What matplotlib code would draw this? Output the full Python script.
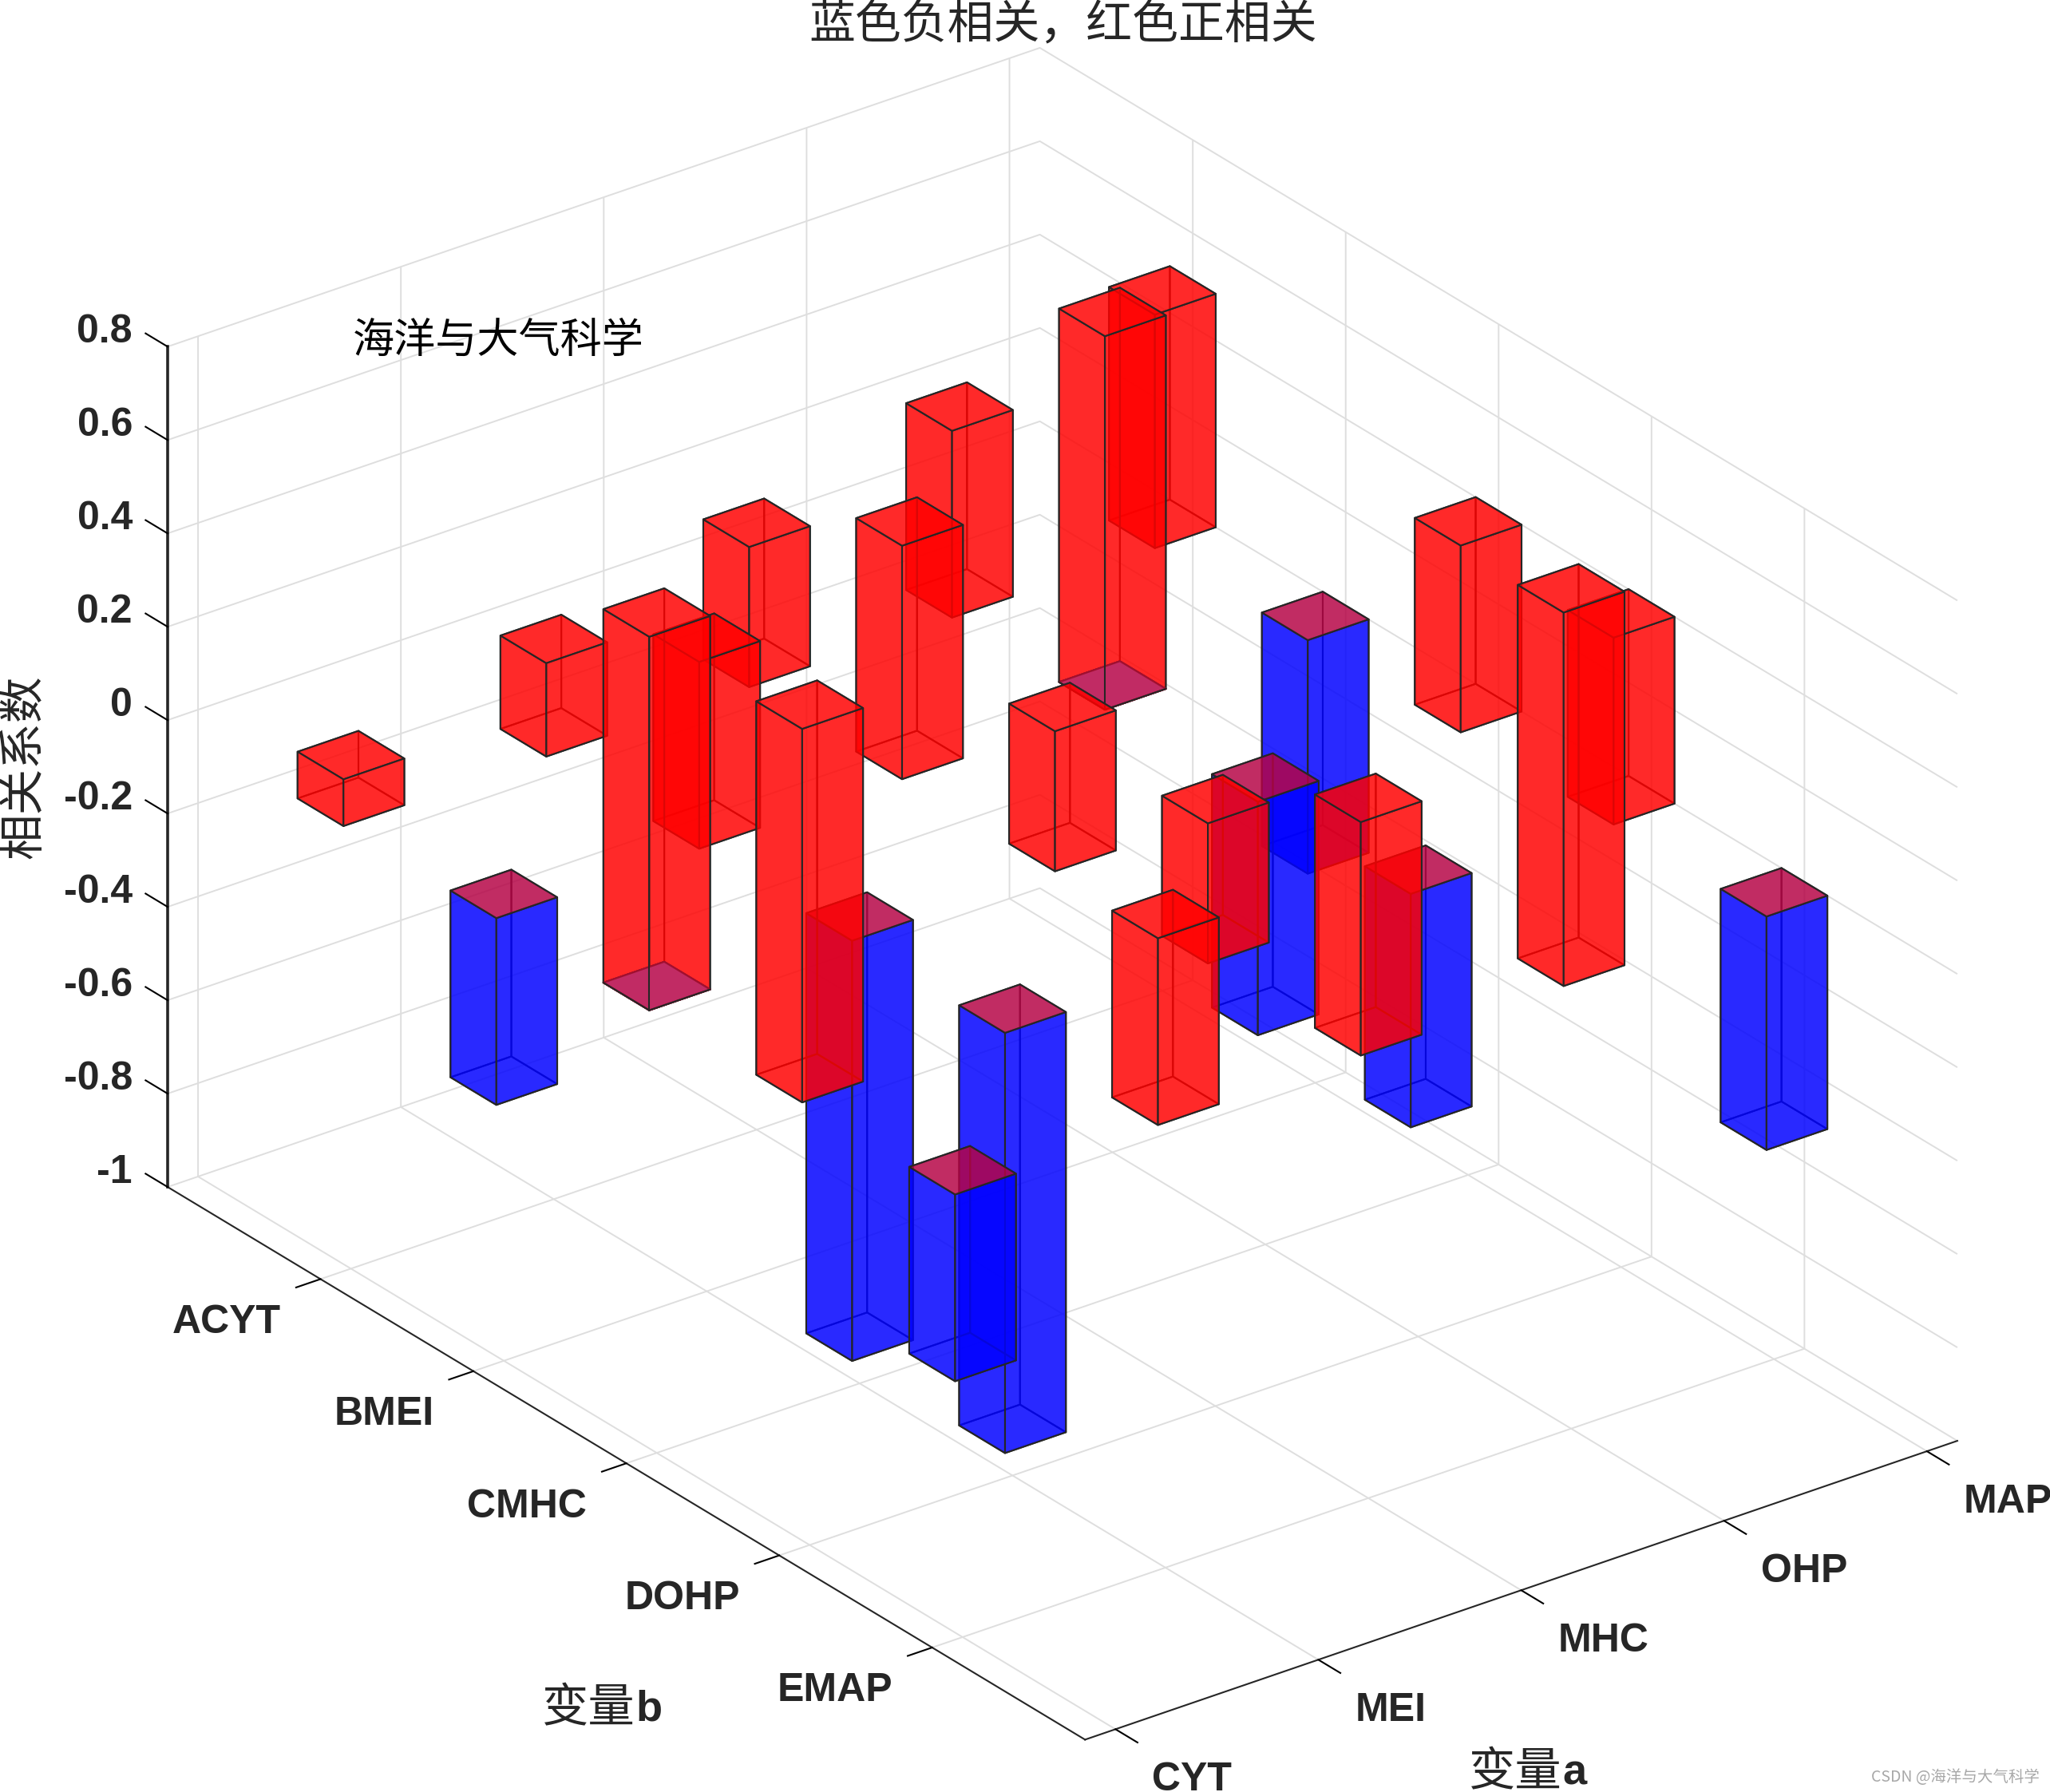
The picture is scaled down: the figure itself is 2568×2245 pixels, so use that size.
import matplotlib
matplotlib.use("Agg")
import matplotlib.pyplot as plt
from mpl_toolkits.mplot3d import proj3d

# correlation values, one list per row of variable b
var_a = ["CYT", "MEI", "MHC", "OHP", "MAP"]
var_b = ["ACYT", "BMEI", "CMHC", "DOHP", "EMAP"]
row_acyt = [0.1, 0.2, 0.3, 0.4, 0.5]
row_bmei = [-0.4, 0.4, 0.5, 0.8, -0.5]
row_cmhc = [0.8, -0.9, 0.3, -0.5, 0.4]
row_dohp = [0.8, -0.9, 0.3, -0.5, 0.4]
row_emap = [-0.4, 0.4, 0.5, 0.8, -0.5]
rows = [row_acyt, row_bmei, row_cmhc, row_dohp, row_emap]
z_ticks = [-1, -0.8, -0.6, -0.4, -0.2, 0, 0.2, 0.4, 0.6, 0.8]
z_labels = ["-1", "-0.8", "-0.6", "-0.4", "-0.2", "0", "0.2", "0.4", "0.6", "0.8"]
# red bars whose floor face shows purple in the original (a, b)
purple_floor = [(1, 3), (4, 2)]

ALPHA = 0.84
RED = (1, 0, 0, ALPHA)
BLUE = (0, 0, 1, ALPHA)
PURPLE = (0.71, 0.01, 0.27, ALPHA)
PURPLE_SOLID = (193 / 255, 43 / 255, 100 / 255, 1)
CLEAR = (1, 1, 1, 0)
INK = "#262626"
CJK = ["Noto Sans CJK SC", "DejaVu Sans"]
LATIN = "Liberation Sans"
W, H = 2568, 2245
HALF = 0.15

fig = plt.figure(figsize=(W / 100, H / 100), dpi=100)
S = 2600
ax = fig.add_axes([-4.2 / W, -209.8 / H, S / W, S / H], projection="3d", proj_type="ortho")
ax.computed_zorder = False
ax.view_init(elev=27.02, azim=232.98)
ax.set_box_aspect((1368.4, 1908.6, 1181.6), zoom=0.9817)

# far rows first, far columns first, so the transparency stacks like the original
order = 10
for b, row in enumerate(rows, start=1):
    for a in range(5, 0, -1):
        v = row[a - 1]
        side = RED if v > 0 else BLUE
        top = side if v > 0 else PURPLE
        # face order in bar3d: -z, +z, -y, +y, -x, +x
        # the original only tints once per bar, so back faces stay unfilled
        ax.bar3d(a - HALF, b - HALF, min(v, 0), 2 * HALF, 2 * HALF, abs(v),
                 color=[CLEAR, top, CLEAR, side, side, CLEAR],
                 edgecolor=INK, linewidth=1.5, shade=False, zorder=order)
        order += 1
        if (a, b) in purple_floor:
            ax.bar3d(a - HALF, b - HALF, 0, 2 * HALF, 2 * HALF, 0,
                     color=[PURPLE_SOLID] * 6, edgecolor="#a01030", linewidth=1.5,
                     shade=False, zorder=order)
            ax.plot([a + HALF, a - HALF, a - HALF], [b + HALF, b + HALF, b - HALF], [0, 0, 0],
                    color=INK, lw=1.5, zorder=order + 1)
            ax.plot([a - HALF, a - HALF], [b + HALF, b + HALF], [0, v],
                    color=INK, lw=1.5, zorder=order + 1)
            order += 2

ax.set_xlim(0.85, 5.15, view_margin=0)
ax.set_ylim(6, 0, view_margin=0)
ax.set_zlim(-1, 0.8, view_margin=0)
ax.set_xticks(range(1, 6))
ax.set_yticks(range(1, 6))
ax.set_zticks(z_ticks)
ax.zaxis.set_ticks_position("lower")

for axis, tick_out in ((ax.xaxis, -0.30), (ax.yaxis, -0.35), (ax.zaxis, 0.30)):
    axis.pane.set_facecolor((1, 1, 1, 0))
    axis.pane.set_edgecolor("none")
    axis.line.set_color(INK)
    axis.line.set_linewidth(1.5)
    axis._axinfo["grid"].update(color="#dedede", linewidth=1.4)
    axis._axinfo["tick"].update(inward_factor=0, outward_factor=tick_out)
    axis._axinfo["tick"]["linewidth"] = {True: 1.5, False: 1.5}
    axis._axinfo["tick"]["color"] = INK
    # tick labels go in by hand below, the built-in ones cannot sit where the original has them
    axis.set_major_formatter(plt.NullFormatter())
    axis.label.set_visible(False)
    axis.offsetText.set_visible(False)
ax.zaxis.line.set_linewidth(2.6)

tick_font = dict(family=LATIN, weight="bold", fontsize=36, color=INK, zorder=200, va="center")


def tick_label(x, y, z, s, ha):
    # data position through the 3d projection, then a plain 2d text
    px, py, _ = proj3d.proj_transform(x, y, z, ax.get_proj())
    ax.text2D(px, py, s, transform=ax.transData, ha=ha, **tick_font)


for i, name in enumerate(var_a, start=1):
    tick_label(i, 6.24, -1.062, name, "left")
for i, name in enumerate(var_b, start=1):
    tick_label(0.656, i, -1.064, name, "right")
for z, name in zip(z_ticks, z_labels):
    tick_label(0.85, -0.23, z - 0.014, name, "right")


def put(x, y, s, **kw):
    # x and y in pixels of the output image, y from the top
    return fig.text(x / W, 1 - y / H, s, **kw)


put(1332, 31, "蓝色负相关，红色正相关", family=CJK, fontsize=41.7, ha="center", va="center", color=INK)
put(624, 427, "海洋与大气科学", family=CJK, fontsize=37.5, ha="center", va="center", color="black")
put(30, 961, "相关系数", family=CJK, fontsize=41.5, rotation=90, ha="center", va="center", color=INK)
put(796, 2141, "变量", family=CJK, fontsize=42, ha="right", va="center", color=INK)
put(796, 2141, "b", family=LATIN, weight="bold", fontsize=39, ha="left", va="center", color=INK)
put(1957, 2221, "变量", family=CJK, fontsize=42, ha="right", va="center", color=INK)
put(1957, 2221, "a", family=LATIN, weight="bold", fontsize=39, ha="left", va="center", color=INK)
put(2555, 2227, "CSDN @海洋与大气科学", family=CJK, fontsize=14, ha="right", va="center", color="#a8a8a8")

fig.savefig("out.png", dpi=100)
